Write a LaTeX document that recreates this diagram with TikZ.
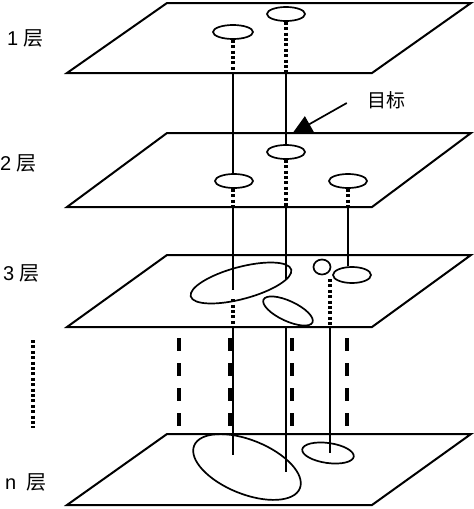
\documentclass[tikz,border=0pt]{standalone}
\usepackage{fontspec}
\setmainfont{Liberation Sans}
\newfontfamily\cjk{Noto Sans CJK SC}
\usetikzlibrary{shapes.geometric, arrows.meta}

\begin{document}
\begin{tikzpicture}[x=1pt, y=-1pt,
    plane/.style={line width=2pt, line join=miter},
    blob/.style={draw, ellipse, line width=1.7pt, inner sep=0pt},
    link/.style={line width=1.4pt},
    dots/.style={line width=3.2pt, dash pattern=on 3pt off 2.4pt},
    gap/.style={line width=3.4pt, dash pattern=on 13pt off 12pt},
    lbl/.style={font=\fontsize{20}{24}\selectfont, anchor=west, inner sep=0pt}]
    \useasboundingbox (0,0) rectangle (474,509);

    % layers
    \foreach \i/\t/\b in {1/3/73, 2/133/207, 3/255/327, n/434/505} {
        \draw[plane] (167,\t) -- (471,\t) -- (372,\b) -- (67,\b) -- cycle;
        \coordinate (q\i) at (67,\b);
    }

    \node[lbl] (l1) at (7,38)   {1 {\cjk 层}};
    \node[lbl] (l2) at (0,163)  {2 {\cjk 层}};
    \node[lbl] (l3) at (3,273)  {3 {\cjk 层}};
    \node[lbl] (ln) at (5,482)  {n\enspace{\cjk 层}};

    % regions on each layer
    \node[blob, minimum width=40pt, minimum height=14pt] (a1) at (233,32) {};
    \node[blob, minimum width=38pt, minimum height=14pt] (a2) at (286,14) {};
    \node[blob, minimum width=38pt, minimum height=14pt] (b1) at (234,181) {};
    \node[blob, minimum width=38pt, minimum height=14pt] (b2) at (286,152) {};
    \node[blob, minimum width=38pt, minimum height=14pt] (b3) at (348,181) {};
    \node[blob, minimum width=104pt, minimum height=32pt, rotate=15] (c1) at (241,283) {};
    \node[blob, minimum width=54pt, minimum height=20pt, rotate=-25] (c2) at (288,311) {};
    \node[blob, minimum width=17pt, minimum height=15pt] (c3) at (322,267) {};
    \node[blob, minimum width=38pt, minimum height=16pt] (c4) at (352,275) {};
    \node[blob, minimum width=114pt, minimum height=54pt, rotate=-22] (d1) at (247,467) {};
    \node[blob, minimum width=52pt, minimum height=20pt, rotate=-8] (d2) at (328,453) {};

    \coordinate (c1in)  at (233,290);
    \coordinate (c1out) at (286,280);
    \coordinate (c34)   at (330,279);
    \coordinate (d1in)  at (233,455);
    \coordinate (d1out) at (286,472);

    % links between layers
    \draw[dots] (a1.south) -- (a1 |- q1);
    \draw[dots] (a2.south) -- (a2 |- q1);
    \draw[link] (a1 |- q1) -- (a1 |- b1.north);
    \draw[link] (a2 |- q1) -- (b2.north);
    \draw[dots] (a1 |- b1.south) -- (a1 |- q2);
    \draw[dots] (b2.south) -- (b2 |- q2);
    \draw[dots] (b3.south) -- (b3 |- q2);
    \draw[link] (a1 |- q2) -- (c1in);
    \draw[link] (b2 |- q2) -- (c1out);
    \draw[link] (b3 |- q2) -- (b3 |- c4.north);
    \draw[dots] (a1 |- c1.south) -- (a1 |- q3);
    \draw[dots] (c34) -- (c34 |- q3);
    \draw[link] (a1 |- q3) -- (d1in);
    \draw[link] (b2 |- q3) -- (d1out);
    \draw[link] (c34 |- q3) -- (c34 |- d2.center);

    % skipped layers
    \foreach \x in {179, 230, 292, 347}
        \draw[gap] (\x,338) -- (\x,427);
    \draw[dots] (33,340) -- (33,428);

    % target
    \node[font=\cjk\fontsize{19}{22}\selectfont, inner sep=0pt] (tgt) at (386,100) {目标};
    \coordinate (tip) at (292,134);
    \draw[line width=1.7pt, -{Triangle[length=20pt, width=18pt]}] ([xshift=-20pt, yshift=-3pt]tgt.west) -- (tip);
\end{tikzpicture}
\end{document}
